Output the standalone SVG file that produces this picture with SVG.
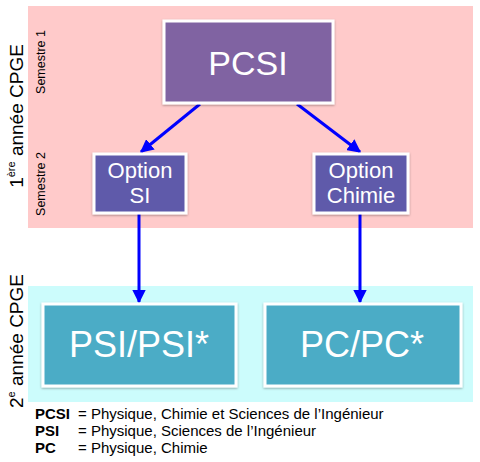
<svg xmlns="http://www.w3.org/2000/svg" width="480" height="462" viewBox="0 0 480 462">
<defs>
<style>
.box{stroke:#fff;stroke-width:3;filter:url(#sh)}
.t{font-family:"Liberation Sans",Arial,sans-serif;fill:#fff;text-anchor:middle}
.k{font-family:"Liberation Sans",Arial,sans-serif;fill:#000}
.c{stroke:#0000ff;stroke-width:3;fill:none;marker-end:url(#ah)}
</style>
<filter id="sh" x="-10%" y="-10%" width="120%" height="130%"><feDropShadow dx="0" dy="1" stdDeviation="1.2" flood-color="#000" flood-opacity="0.35"/></filter>
<marker id="ah" viewBox="0 0 10 10" refX="9" refY="5" markerWidth="4.5" markerHeight="4.5" orient="auto" markerUnits="strokeWidth"><path d="M0,0L10,5L0,10z" fill="#0000ff"/></marker>
</defs>
<rect x="28" y="6" width="445" height="222" fill="#ffcaca"/>
<rect x="28" y="286" width="445" height="116" fill="#ccfcfc"/>
<g id="labels">
<text class="k" transform="translate(23,116) rotate(-90)" text-anchor="middle" font-size="19">1<tspan font-size="11" dy="-8">ère</tspan><tspan dy="8"> année CPGE</tspan></text>
<text class="k" transform="translate(23,341) rotate(-90)" text-anchor="middle" font-size="19">2<tspan font-size="11" dy="-8">e</tspan><tspan dy="8"> année CPGE</tspan></text>
<text class="k" transform="translate(45,62) rotate(-90)" text-anchor="middle" font-size="12.5">Semestre 1</text>
<text class="k" transform="translate(45,184) rotate(-90)" text-anchor="middle" font-size="12.5">Semestre 2</text>
</g>
<g id="connectors">
<line class="c" x1="200" y1="104" x2="141" y2="152"/>
<line class="c" x1="297" y1="104" x2="360" y2="152"/>
<line class="c" x1="139" y1="214" x2="139" y2="302"/>
<line class="c" x1="360" y1="214" x2="360" y2="302"/>
</g>
<g id="pcsi"><rect class="box" x="164" y="21" width="169" height="82" fill="#8064a2"/><text class="t" x="248" y="75" font-size="34">PCSI</text></g>
<g id="optsi"><rect class="box" x="94" y="154" width="92" height="59" fill="#5f5aaa"/><text class="t" x="140" y="178" font-size="22">Option</text><text class="t" x="140" y="203" font-size="22">SI</text></g>
<g id="optchimie"><rect class="box" x="314" y="154" width="94" height="59" fill="#5f5aaa"/><text class="t" x="361" y="178" font-size="22">Option</text><text class="t" x="361" y="203" font-size="22">Chimie</text></g>
<g id="psi"><rect class="box" x="43" y="304" width="193" height="82" fill="#4bacc6"/><text class="t" x="139" y="357" font-size="36">PSI/PSI*</text></g>
<g id="pc"><rect class="box" x="265" y="304" width="196" height="82" fill="#4bacc6"/><text class="t" x="362" y="357" font-size="36">PC/PC*</text></g>
<g id="legend" font-size="15">
<text class="k" x="35" y="419" font-weight="bold">PCSI</text><text class="k" x="78" y="419">= Physique, Chimie et Sciences de l’Ingénieur</text>
<text class="k" x="35" y="436" font-weight="bold">PSI</text><text class="k" x="78" y="436">= Physique, Sciences de l’Ingénieur</text>
<text class="k" x="35" y="453" font-weight="bold">PC</text><text class="k" x="78" y="453">= Physique, Chimie</text>
</g>
</svg>
